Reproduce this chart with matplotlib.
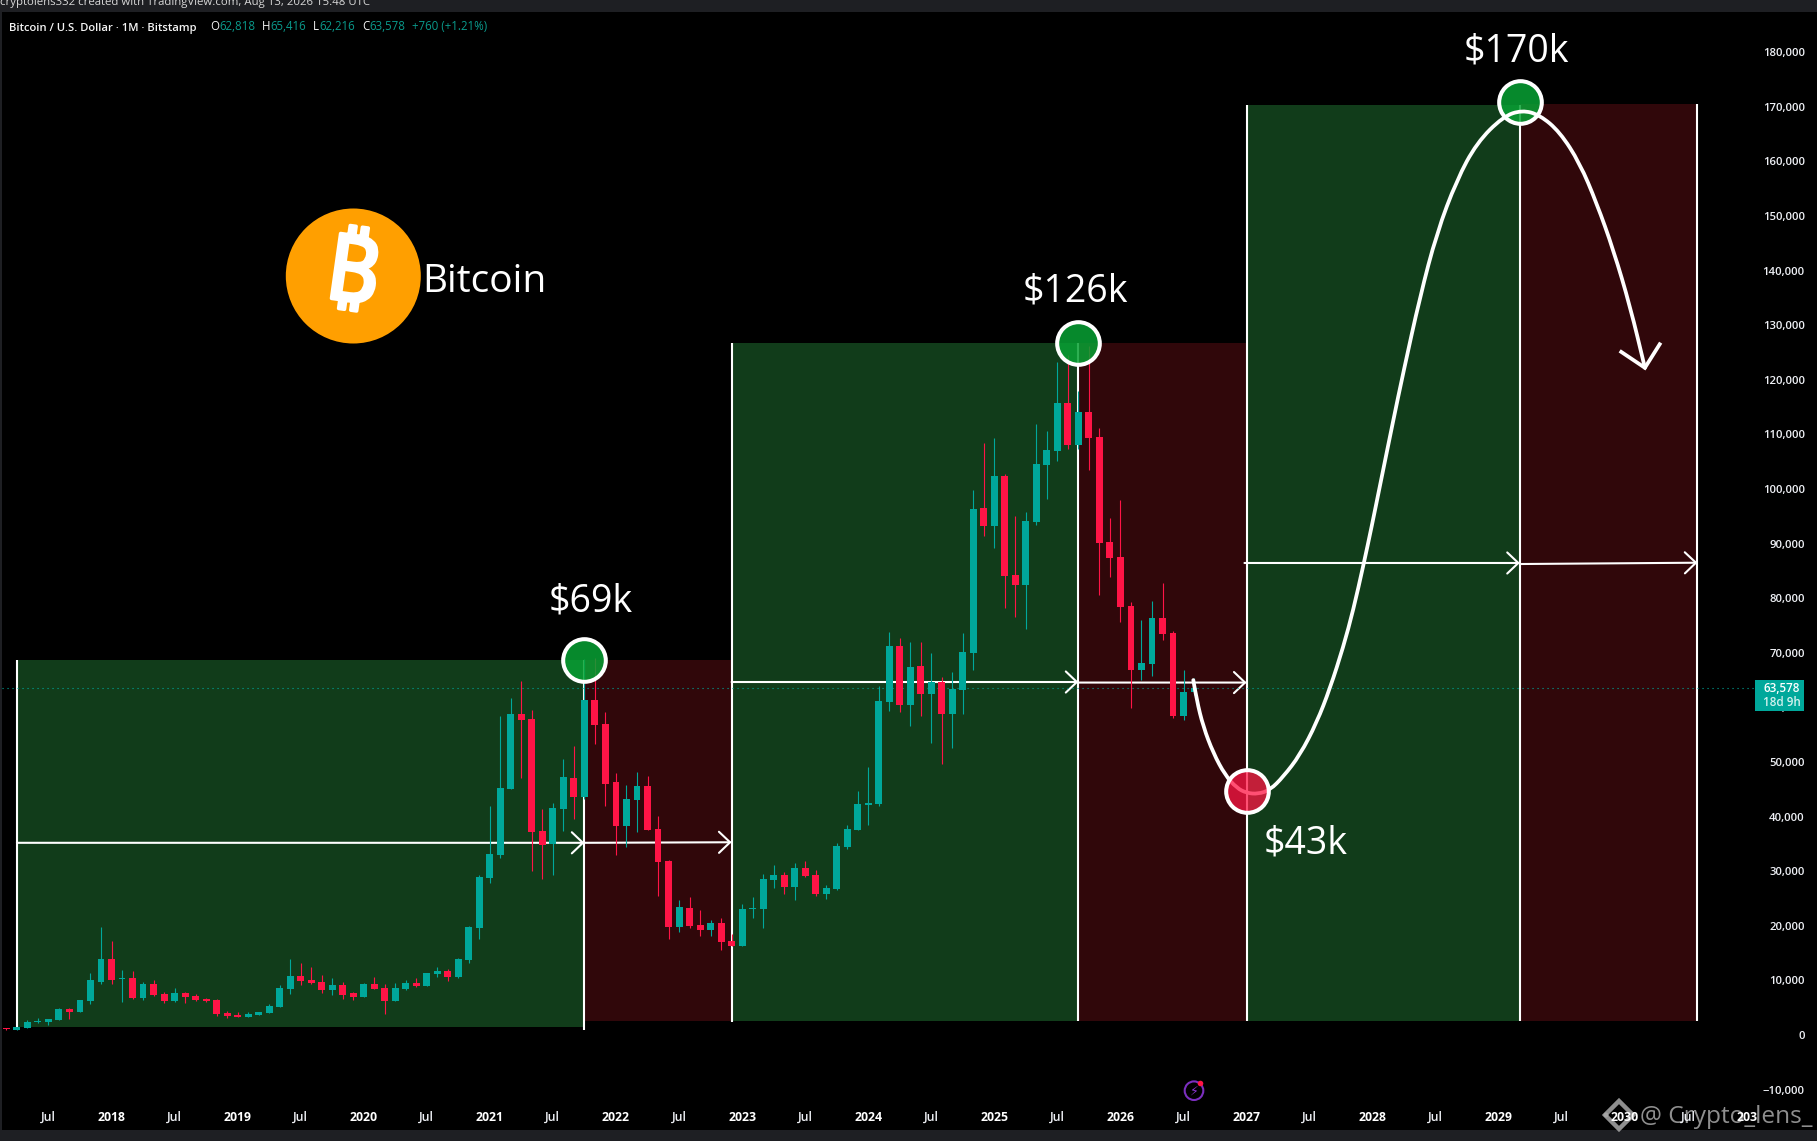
import numpy as np
import matplotlib
matplotlib.use("Agg")
import matplotlib.pyplot as plt
import matplotlib.patheffects as pe
from matplotlib import font_manager as fm
from matplotlib.ft2font import FT2Font
from matplotlib.patches import Rectangle, Circle, Polygon, PathPatch
from matplotlib.path import Path
from matplotlib.transforms import Affine2D, Bbox, TransformedBbox

W, H = 1817, 1141
FONT = "Open Sans"
plt.rcParams["font.family"] = [FONT, "DejaVu Sans"]

# ---------- data (months since Jan 2018, prices in thousand USD) ----------
months = list(range(-10, 104))
opens = [1.25,0.95,1.3,2.44,2.38,2.75,4.7,4.2,6.23,9.7,13.92,10.2,10.44,6.78,9.34,7.5,6.23,7.69,7.14,6.6,
         6.4,4.03,3.66,3.3,3.66,4.03,5.1,8.4,10.8,10.07,9.7,8.24,9.15,7.69,6.96,9.34,8.6,6.23,8.4,9.5,
         8.97,11.17,11.72,10.6,13.74,19.6,28.75,33,45.05,58.8,57.9,37.4,35,41.4,47.06,43.6,61.35,56.95,46.3,38.27,
         43.03,45.6,37.7,31.86,19.77,23.25,20.14,19.2,20.5,17.2,16.3,23.1,23.07,28.38,29.3,27.1,30.6,29.3,25.8,26.74,
         34.43,37.55,42.1,42.3,60.99,71.25,60.44,67.58,62.45,64.65,58.8,63.2,69.96,96.5,93.2,102.4,84.25,82.4,93.96,104.4,
         106.96,115.75,108.06,114.1,109.5,90.3,87.54,78.57,66.85,67.95,76.37,73.6,58.4,62.818]
highs = [1.3,1.46,2.75,3.1,2.93,4.9,4.95,6.4,11.35,19.78,17.2,11.9,11.7,9.7,10.07,7.87,8.6,7.87,7.5,6.8,
         6.6,4.4,4.2,4.2,4.2,5.68,9.15,13.92,13.2,12.45,10.99,10.44,9.7,7.87,9.5,10.6,9.34,9.5,10.07,10.44,
         11.35,12.45,12.08,14.1,19.96,29.3,41.9,58.4,61.7,64.8,59.5,41.4,42.5,50.5,52.9,68.8,69.04,59.15,48,45.8,
         48.2,47.4,40.1,32,24.7,25.27,22.9,21.05,21.4,18.5,24,25.27,29.48,31.13,29.85,31.5,31.87,30.2,27.47,35.2,
         38.46,44.7,49.08,63.9,73.8,72.7,72,72,69.96,65.57,66.5,73.6,99.8,108.4,109.3,102.75,95.05,95.8,111.9,110.6,
         123.26,124.5,117.95,126.2,111.2,94.7,98,79.3,76,79.5,82.8,74,66.85,65.416]
lows = [1.0,0.92,1.28,2.2,1.83,2.75,2.93,4.2,5.68,9.34,9.34,6.05,6.6,6.4,7.14,5.86,6.05,5.86,6.23,6.05,
        3.48,3.1,3.3,3.3,3.66,4.03,5.1,7.5,9.15,9.34,7.7,7.33,6.6,6.4,6.96,8.4,3.85,6.23,8.24,8.8,
        8.97,10.6,9.9,10.44,13.19,17.6,27.8,32.4,45.0,47,30,28.6,29.3,37.35,39.55,43.3,53.3,41.9,33,34.4,
        37.2,37.5,25.45,17.6,18.86,19.6,18.1,18.1,15.56,16.3,16.3,21.4,19.6,26.9,25.8,24.7,28.94,25.46,24.9,26.56,
        34.07,37.55,38.46,41.94,59.34,59.16,56.6,58.4,53.5,49.63,52.56,58.8,66.85,91.4,89.2,78.2,76.56,74.36,93.4,98.2,
        105.13,107.3,107.3,103.5,80.6,83.88,75.64,59.9,65,65.75,72.34,58.06,57.7,62.216]
closes = [1.1,1.44,2.38,2.56,2.93,4.76,4.2,6.4,10.07,13.92,10.07,10.4,6.78,9.34,7.33,6.2,7.69,6.96,6.4,6.2,
          3.85,3.48,3.3,3.85,4.2,5.3,8.6,10.8,9.9,9.5,8.24,9.15,7.33,6.96,9.34,8.4,6.23,8.6,9.5,8.97,
          11.35,11.72,10.6,13.92,19.78,28.9,33.15,45.2,58.8,57.7,37.2,34.8,41.6,47.2,43.6,61.35,56.8,46,38.27,43.2,
          45.6,37.5,31.7,19.77,23.4,19.96,19.2,20.5,17.03,16.3,23.07,23.25,28.56,29.3,27.1,30.6,29.1,25.8,26.92,34.6,
          37.73,42.3,42.5,61.17,71.25,60.44,67.4,62.45,64.65,58.8,63.37,70.15,96.34,93.2,102.4,84.07,82.4,94.14,104.58,107.14,
          115.75,108.06,114.1,109.34,90.1,87.36,78.4,66.85,68.13,76.37,73.44,58.4,62.8,63.578]

price_ticks = list(range(-10, 190, 10))
price_labels = [("\u2212" if v < 0 else "") + f"{abs(v)*1000:,}" for v in price_ticks]
time_ticks = list(range(-6, 162, 6))
time_labels = []
for t in time_ticks:
    time_labels.append("Jul" if t % 12 else str(2018 + t // 12))
last_price = 63.578

# zones: left month, right month, top price, bottom price
green_zones = [(-9, 45, 68.7, 1.5), (59, 92, 126.7, 2.55), (108, 134, 170.3, 2.55)]
red_zones = [(45, 59, 68.7, 2.55), (92, 108, 126.7, 2.55), (134, 150.9, 170.6, 2.55)]
vert_lines = [(-9, 68.7, 1.4), (45, 68.7, 0.9), (59, 126.7, 2.4), (92, 126.7, 2.55),
              (108, 170.3, 2.55), (134, 170.3, 2.55), (150.9, 170.6, 2.55)]
arrows = [(-9, 45, 35.2, 35.2), (45, 59, 35.2, 35.3), (59, 92, 64.65, 64.65),
          (92, 108, 64.55, 64.55), (107.8, 134, 86.45, 86.45), (134, 150.9, 86.26, 86.5)]
peaks = [(45, 68.7), (92, 126.7), (134, 170.8)]
trough = (108, 44.75)

path_m = [102.93,103.25,103.88,104.83,105.95,107.06,108.01,109.09,110.23,111.49,113.08,114.67,115.94,117.2,118.15,
          119.1,119.9,120.7,121.96,122.9,124.5,126.1,128.0,129.9,132.4,134.2,135.9,137.8,139.7,141.3,142.9,144.5,145.9]
path_p = [65.0,61.36,56.47,51.65,47.62,45.24,44.32,44.14,44.87,47.3,51.28,57.2,63.5,71.06,77.84,
          85.9,93.1,100.7,112.6,121.25,135.2,146.9,156.6,163.4,168.2,169.4,168.5,165.4,159.7,152.4,143.8,133.4,122.2]
head_m = [143.5, 145.9, 147.4]
head_p = [125.3, 122.2, 126.8]

# ---------- colours ----------
BG = "#1e1f23"
UP = "#00a89b"
DOWN = "#ff1446"
GZONE = "#113c1a"
RZONE = "#30070a"
TXT = "#eef0f5"

fig = plt.figure(figsize=(W / 100, H / 100), dpi=100, facecolor=BG)
px = Affine2D().scale(1, -1).translate(0, H)
L, R, T, B = 2, W, 12, 1130
ax = fig.add_axes([L / W, 1 - B / H, (R - L) / W, (B - T) / H], facecolor="black")
X0, XS = 111.5, 10.51
Y0, YS = 1035.0, 5.46
ax.set_xlim((L - X0) / XS, (R - X0) / XS)
ax.set_ylim((Y0 - B) / YS, (Y0 - T) / YS)
for s in ax.spines.values():
    s.set_visible(False)

for x0, x1, top, bot in green_zones:
    ax.add_patch(Rectangle((x0, bot), x1 - x0, top - bot, fc=GZONE, ec="none", zorder=1))
for x0, x1, top, bot in red_zones:
    ax.add_patch(Rectangle((x0, bot), x1 - x0, top - bot, fc=RZONE, ec="none", zorder=1))
for x, top, bot in vert_lines:
    ax.plot([x, x], [bot, top], color="white", lw=1.5, zorder=3, solid_capstyle="butt")
for x0, x1, y0, y1 in arrows:
    ax.annotate("", xy=(x1, y1), xytext=(x0, y0), zorder=3,
                arrowprops=dict(arrowstyle="->,head_length=8,head_width=7.6", mutation_scale=1,
                                color="white", lw=1.5, shrinkA=0, shrinkB=0))

# candles
opens_a, closes_a = np.array(opens), np.array(closes)
colors = [UP if c >= o else DOWN for o, c in zip(opens, closes)]
ax.vlines(months, lows, highs, colors=colors, lw=0.8, zorder=5)
ax.bar(months, np.abs(closes_a - opens_a), bottom=np.minimum(opens_a, closes_a), width=0.66,
       color=colors, linewidth=0, zorder=6)

ax.plot([ax.get_xlim()[0], 156.5], [last_price, last_price], color=UP, lw=0.8,
        ls=(0, (1, 3.5)), zorder=4)

# green circles below the drawn curve
for xp, yp in peaks:
    ax.plot([xp], [yp], "o", ms=30.7, mew=2.9, mec="white", mfc=(8 / 255, 162 / 255, 52 / 255, 0.85), zorder=7)

# drawn curve
pts = np.column_stack([path_m, path_p])
verts, codes = [pts[0]], [Path.MOVETO]
for i in range(1, len(pts) - 1):
    verts += [pts[i], (pts[i] + pts[i + 1]) / 2]
    codes += [Path.CURVE3, Path.CURVE3]
verts.append(pts[-1])
codes.append(Path.LINETO)
ax.add_patch(PathPatch(Path(verts, codes), fc="none", ec="white", lw=2.7, zorder=8, capstyle="round"))
ax.plot(head_m, head_p, color="white", lw=2.7, zorder=8, solid_joinstyle="miter", solid_capstyle="butt")

ax.plot([trough[0]], [trough[1]], "o", ms=30.7, mew=2.9, mec="white", mfc=(1, 22 / 255, 68 / 255, 0.75), zorder=9)

# axes labels
ax.yaxis.tick_right()
ax.set_yticks(price_ticks)
ax.set_yticklabels(price_labels)
ax.set_xticks(time_ticks)
ax.set_xticklabels(time_labels)
ax.tick_params(axis="y", length=0, pad=-8.8, labelsize=8.2, labelcolor=TXT)
ax.tick_params(axis="x", length=0, pad=-13.8, labelsize=8.8, labelcolor=TXT)
for lab in ax.get_yticklabels():
    lab.set_ha("right")
    lab.set_va("center_baseline")
    lab.set_fontweight("semibold")
clip = TransformedBbox(Bbox([[0, 0], [1758 / W, 1]]), fig.transFigure)
for lab, text in zip(ax.get_xticklabels(), time_labels):
    lab.set_fontweight("bold" if text != "Jul" else "semibold")
    lab.set_color("white" if text != "Jul" else TXT)
    lab.set_clip_box(clip)
    lab.set_clip_on(True)

# ---------- overlay in pixel coordinates ----------
def ptext(x, y, s, size, color="white", ha="left", va="baseline", **kw):
    return fig.text(x, y, s, transform=px, fontsize=size, color=color, ha=ha, va=va, **kw)

fig.add_artist(Rectangle((1755, 680), 49, 31, transform=px, fc=UP, ec="none"))
ptext(1782, 688, "63,578", 8.4, "white", ha="center", va="center", fontweight="semibold")
ptext(1782, 702, "18d 9h", 8.4, "#d6f2ef", ha="center", va="center", fontweight="semibold")

ptext(1516, 61.7, "$170k", 27, ha="center")
ptext(1075, 301.6, "$126k", 27, ha="center")
ptext(591, 611, "$69k", 27, ha="center")
ptext(1305.3, 854, "$43k", 27, ha="center")

# Bitcoin logo: pick an installed family that really holds the sign
def family_with(ch):
    for name in ["DejaVu Sans", "Noto Sans", "Roboto", "Lato", "Inter", "Open Sans", "Liberation Sans",
                 "Noto Sans CJK SC"]:
        for weight in ["bold", "normal"]:
            fp = fm.FontProperties(family=name, weight=weight)
            try:
                path = fm.findfont(fp, fallback_to_default=False)
            except Exception:
                continue
            if ord(ch) in FT2Font(path).get_charmap():
                return name, weight
    return "DejaVu Sans", "normal"

fam, wgt = family_with("\u20bf")
fig.add_artist(Circle((353.3, 276), 67.5, transform=px, fc="#ff9f00", ec="none"))
coin = ptext(352, 277, "\u20bf", 66, "white", ha="center", va="center", rotation=-8, family=[fam], fontweight=wgt)
coin.set_path_effects([pe.withStroke(linewidth=2.6, foreground="white")])
ptext(422, 291.7, "Bitcoin", 28)

# top strip + legend
ptext(0, 5, "cryptolens332 created with TradingView.com, Aug 13, 2026 15:48 UTC", 8.2, "#d8d8d8")
ly = 30.5
LEG = "#0a9a8c"
ptext(9, ly, "Bitcoin / U.S. Dollar \u00b7 1M \u00b7 Bitstamp", 8.1, "#f4f4f4", fontweight="semibold")
for x, s, c in [(210.5, "O", "#f4f4f4"), (219, "62,818", LEG), (262, "H", "#f4f4f4"), (270, "65,416", LEG),
                (313, "L", "#f4f4f4"), (319, "62,216", LEG), (362, "C", "#f4f4f4"), (369, "63,578", LEG),
                (412.5, "+760 (+1.21%)", LEG)]:
    ptext(x, ly, s, 8.3, c)

# lightning icon
fig.add_artist(Circle((1194, 1090.7), 9.3, transform=px, fc="none", ec="#7b2fbf", lw=1.5))
ptext(1194, 1091, "\u26a1", 9, "#8a35d0", ha="center", va="center", family=["DejaVu Sans"])
fig.add_artist(Circle((1200.5, 1083.5), 2.8, transform=px, fc="#ff1446", ec="none"))

# watermark, under the time labels
WM = "#a8a8a8"
ax.add_artist(Polygon([(1619, 1101), (1633, 1115), (1619, 1129), (1605, 1115)], closed=True, transform=px,
                      fc="none", ec=WM, lw=3.2, alpha=0.85, zorder=1.2, clip_on=False))
ax.add_artist(Circle((1606, 1115), 2.5, transform=px, fc=WM, ec="none", alpha=0.85, zorder=1.2, clip_on=False))
ax.text(1640, 1123, "@ Crypto_lens_", transform=px, fontsize=17.6, color=WM, alpha=0.85, zorder=1.2, clip_on=False)

fig.savefig("out.png", dpi=100, facecolor=fig.get_facecolor())
